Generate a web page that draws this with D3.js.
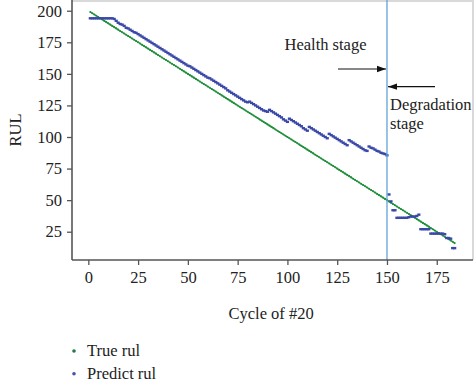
<!DOCTYPE html>
<html><head><meta charset="utf-8">
<script src="https://cdn.jsdelivr.net/npm/d3@7"></script>
<style>body{margin:0;background:#fff}svg{display:block}text{font-family:"Liberation Serif","DejaVu Serif",serif;fill:#222}</style>
</head><body><svg id="c" width="474" height="384"></svg>
<script>
const xTicks = [0,25,50,75,100,125,150,175];
const yTicks = [25,50,75,100,125,150,175,200];
const trueRul = [
199,198,197,196,195,194,193,192,191,190,
189,188,187,186,185,184,183,182,181,180,
179,178,177,176,175,174,173,172,171,170,
169,168,167,166,165,164,163,162,161,160,
159,158,157,156,155,154,153,152,151,150,
149,148,147,146,145,144,143,142,141,140,
139,138,137,136,135,134,133,132,131,130,
129,128,127,126,125,124,123,122,121,120,
119,118,117,116,115,114,113,112,111,110,
109,108,107,106,105,104,103,102,101,100,
99,98,97,96,95,94,93,92,91,90,
89,88,87,86,85,84,83,82,81,80,
79,78,77,76,75,74,73,72,71,70,
69,68,67,66,65,64,63,62,61,60,
59,58,57,56,55,54,53,52,51,50,
49,48,47,46,45,44,43,42,41,40,
39,38,37,36,35,34,33,32,31,30,
29,28,27,26,25,24,23,22,21,20,
19,18,17,16];
const predictRul = [
194,194,194,194,194,194,194,194,194,194,
194,194,193.5,192,190.5,189.5,189,188,186.5,186,
185,184,183,182.5,181.5,180.5,179.5,178.5,177.5,176.5,
175.5,174.5,173.5,172.5,171.5,170.5,169.5,168.5,167.5,166.5,
165.5,164.5,163.5,162.5,161.5,160.5,159.5,158.5,157.5,156.5,
156,155,154,153,152,151,150,149,148,147,
146.5,145.5,144.5,143.5,142.5,141.5,140.5,139.5,138.5,137,
136,135,134,133,132,131,130,129,128,127.5,
128,127,126,125,124,123,122,121,120.5,120,
121.5,120.5,119.5,118.5,117.5,116.5,115.5,114,113,112,
114.5,113.5,112.5,111.5,110.5,109.5,108.5,107,106,105,
108,107,106,105,104,103,102,101,100,99,
102.5,101.5,100.5,99.5,98.5,97.5,96.5,95.5,94.5,93.5,
97.5,96.5,95.5,94.5,93.5,92.5,91.5,90.5,89.5,89,
92.5,91.5,91,90,89,88.5,87.5,87,86.5,85.5,
54.5,49,42,42,36,36,36,36,36,36,
36.5,37,37,37,37.5,38.5,27,27,27,27,
27,23.5,23.5,23.5,23.5,23.5,23.5,23.5,23,20,
20,19.5,12,12];
const stageBoundary = 150;
const legendLabels = ["True rul","Predict rul"];

const svg = d3.select("#c");
const x = d3.scaleLinear().domain([-8.2,192.7]).range([72,472]);
const y = d3.scaleLinear().domain([2.6,208.5]).range([260,0]);
const green = "#1f8f3a", blue = "#3a48a8";

// frame (top/right)
svg.append("path").attr("d","M72,1H473V260").attr("fill","none").attr("stroke","#d9d9d9").attr("stroke-width",2);

// true rul
svg.append("g").selectAll("circle").data(trueRul).join("circle")
  .attr("cx",(d,i)=>x(i+1)).attr("cy",d=>y(d)).attr("r",1.05).attr("fill",green);
svg.append("path").datum(trueRul).attr("fill","none").attr("stroke",green).attr("stroke-width",1.3)
  .attr("d",d3.line().x((d,i)=>x(i+1)).y(d=>y(d)));

// predict rul
svg.append("g").selectAll("rect").data(predictRul).join("rect")
  .attr("x",(d,i)=>x(i+1)-1.6).attr("y",d=>y(d)-1.2).attr("width",3.2).attr("height",2.4).attr("fill",blue);

// stage line
svg.append("line").attr("x1",x(stageBoundary)).attr("x2",x(stageBoundary)).attr("y1",0).attr("y2",260)
  .attr("stroke","#5fa3d9").attr("stroke-width",1.3);

// axes
const xa = svg.append("g").attr("transform","translate(0,260)")
  .call(d3.axisBottom(x).tickValues(xTicks).tickSize(5).tickSizeOuter(0).tickPadding(6));
const ya = svg.append("g").attr("transform","translate(72,0)")
  .call(d3.axisLeft(y).tickValues(yTicks).tickSize(5).tickSizeOuter(0).tickPadding(5));
[xa,ya].forEach(a=>{
  a.select(".domain").attr("stroke","#555").attr("stroke-width",1.6);
  a.selectAll(".tick line").attr("stroke","#555").attr("stroke-width",1.3);
  a.selectAll(".tick text").attr("font-size","16.5px").attr("fill","#222").style("font-family",'"Liberation Serif",serif');
});
xa.select(".domain").attr("d","M72,0H473");
ya.select(".domain").attr("d","M0,0V260");

// labels
svg.append("text").attr("x",x(91.8)).attr("y",319).attr("text-anchor","middle").attr("font-size","16.5px").text("Cycle of #20");
svg.append("text").attr("transform","translate(21,130) rotate(-90)").attr("text-anchor","middle").attr("font-size","16.5px").text("RUL");

// annotations
svg.append("defs").append("marker").attr("id","ah").attr("viewBox","0 0 10 10").attr("refX",10).attr("refY",5)
  .attr("markerWidth",9).attr("markerHeight",9).attr("markerUnits","userSpaceOnUse").attr("orient","auto")
  .append("path").attr("d","M0,1.5L10,5L0,8.5Z").attr("fill","#111");
svg.append("line").attr("x1",338).attr("x2",386).attr("y1",69).attr("y2",69).attr("stroke","#111").attr("stroke-width",1.2).attr("marker-end","url(#ah)");
svg.append("line").attr("x1",435).attr("x2",388).attr("y1",86.7).attr("y2",86.7).attr("stroke","#111").attr("stroke-width",1.2).attr("marker-end","url(#ah)");
svg.append("text").attr("x",284.5).attr("y",49.5).attr("font-size","16.5px").text("Health stage");
svg.append("text").attr("x",390).attr("y",110).attr("font-size","16.5px").text("Degradation");
svg.append("text").attr("x",390).attr("y",129).attr("font-size","16.5px").text("stage");

// legend
const lg = svg.append("g");
const lgColors = ["#217a48","#4553a8"];
legendLabels.forEach((t,i)=>{
  lg.append("circle").attr("cx",74).attr("cy",351+i*22.7).attr("r",1.8).attr("fill",lgColors[i]);
  lg.append("text").attr("x",87).attr("y",356.3+i*22.5).attr("font-size","16.5px").text(t);
});
</script></body></html>
